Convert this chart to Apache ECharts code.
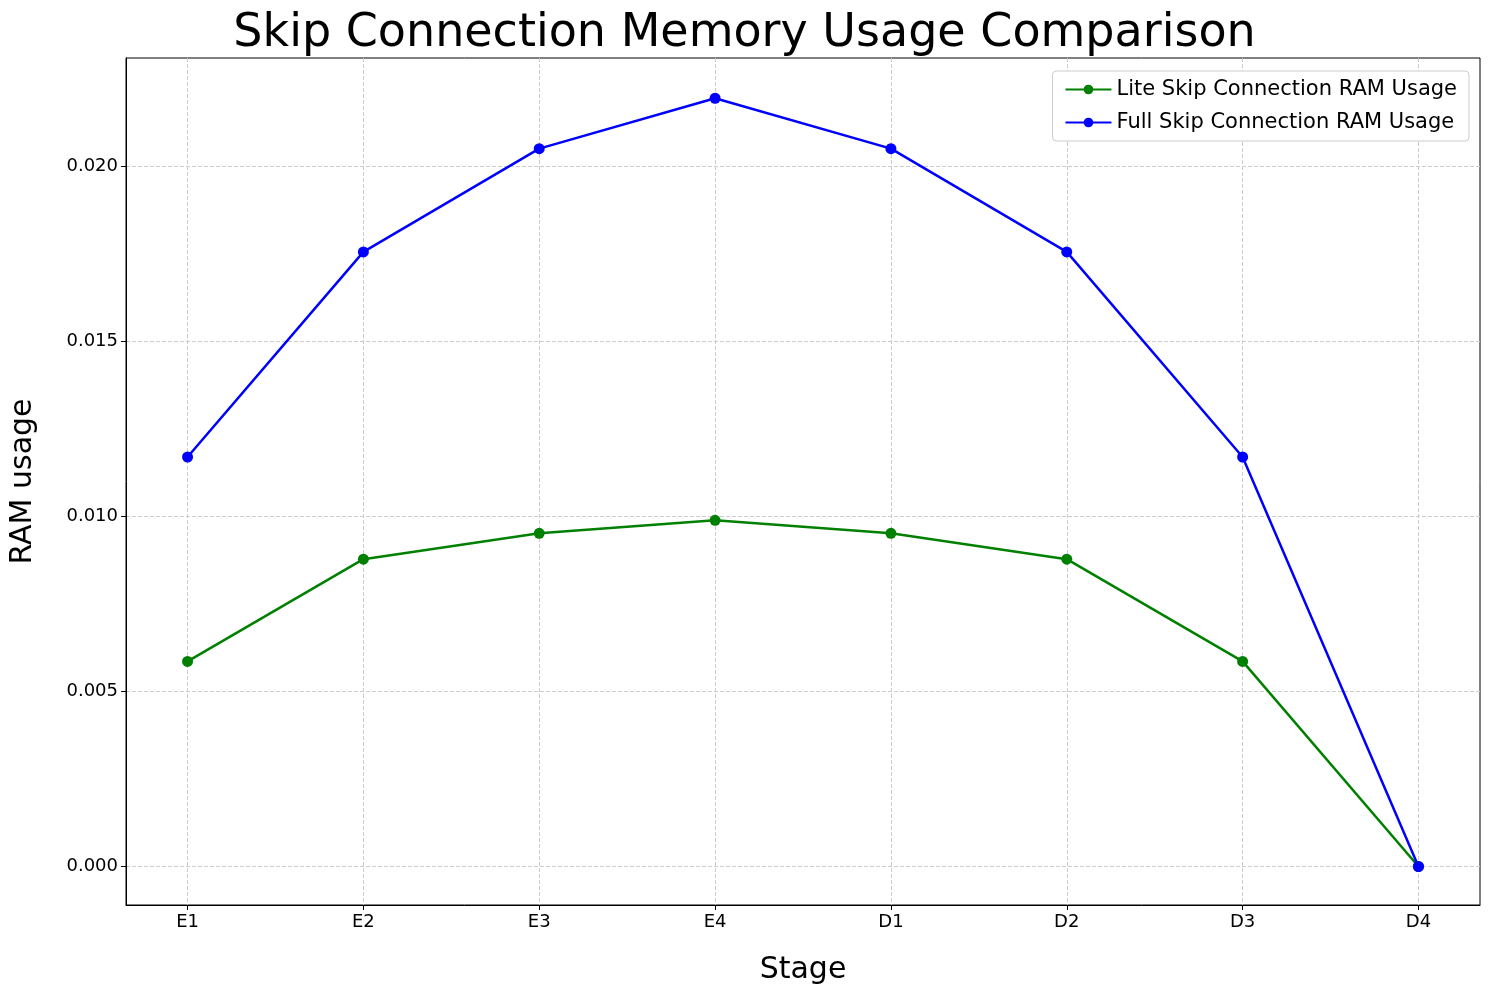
<!DOCTYPE html>
<html lang="en">
<head>
<meta charset="UTF-8">
<title>Skip Connection Memory Usage Comparison</title>
<script src="https://cdn.jsdelivr.net/npm/echarts@6/dist/echarts.min.js"></script>
</head>
<body style="margin:0;background:#fff;">
<div id="main" style="width:1489px;height:990px;"></div>
<script>
const stages = ['E1', 'E2', 'E3', 'E4', 'D1', 'D2', 'D3', 'D4'];
const liteRam = [0.00586, 0.00878, 0.00952, 0.00989, 0.00952, 0.00878, 0.00586, 0];
const fullRam = [0.0117, 0.01756, 0.02051, 0.02195, 0.02051, 0.01756, 0.0117, 0];
const yTicks = [0, 0.005, 0.01, 0.015, 0.02];
const xTicks = [0, 1, 2, 3, 4, 5, 6, 7];

const chart = echarts.init(document.getElementById('main'));
const font = 'DejaVu Sans';
const pts = arr => arr.map((v, i) => [i, v]);

chart.setOption({
    animation: false,
    textStyle: { fontFamily: font },
    title: {
        text: 'Skip Connection Memory Usage Comparison',
        left: 'center', top: 6,
        textStyle: { fontSize: 46, fontWeight: 'normal', color: '#000', fontFamily: font }
    },
    legend: {
        right: 20, top: 71, orient: 'vertical', itemGap: 12,
        backgroundColor: '#fff', borderColor: '#ccc', borderWidth: 1, borderRadius: 4,
        padding: [8, 12], itemWidth: 46, itemHeight: 12,
        textStyle: { fontSize: 21, color: '#000', fontFamily: font }
    },
    grid: { left: 124, right: 9, top: 58, bottom: 79, show: true, borderColor: '#000', borderWidth: 1 },
    xAxis: {
        type: 'value', min: -0.35, max: 7.35,
        name: 'Stage', nameLocation: 'middle', nameGap: 50,
        nameTextStyle: { fontSize: 30, color: '#000', fontFamily: font },
        axisLine: { onZero: false, lineStyle: { color: '#000' } },
        axisTick: { show: true, customValues: xTicks, length: 5, lineStyle: { color: '#000' } },
        axisLabel: { customValues: xTicks, formatter: v => stages[Math.round(v)], fontSize: 18, color: '#000', fontFamily: font, margin: 8 },
        splitLine: { show: true, lineStyle: { type: 'dashed', color: '#ccc' } }
    },
    yAxis: {
        type: 'value', min: -0.0011, max: 0.0231,
        name: 'RAM usage', nameLocation: 'middle', nameGap: 88,
        nameTextStyle: { fontSize: 30, color: '#000', fontFamily: font },
        axisLine: { show: true, onZero: false, lineStyle: { color: '#000' } },
        axisTick: { show: true, customValues: yTicks, length: 5, lineStyle: { color: '#000' } },
        axisLabel: { customValues: yTicks, formatter: v => v.toFixed(3), fontSize: 18, color: '#000', fontFamily: font, margin: 8 },
        splitLine: { show: true, lineStyle: { type: 'dashed', color: '#ccc' } }
    },
    series: [
        {
            name: 'Lite Skip Connection RAM Usage', type: 'line', data: pts(liteRam),
            symbol: 'circle', symbolSize: 11, color: 'green',
            lineStyle: { width: 2.5, color: 'green' }, itemStyle: { color: 'green' }
        },
        {
            name: 'Full Skip Connection RAM Usage', type: 'line', data: pts(fullRam),
            symbol: 'circle', symbolSize: 11, color: 'blue',
            lineStyle: { width: 2.5, color: 'blue' }, itemStyle: { color: 'blue' }
        }
    ]
});
</script>
</body>
</html>
